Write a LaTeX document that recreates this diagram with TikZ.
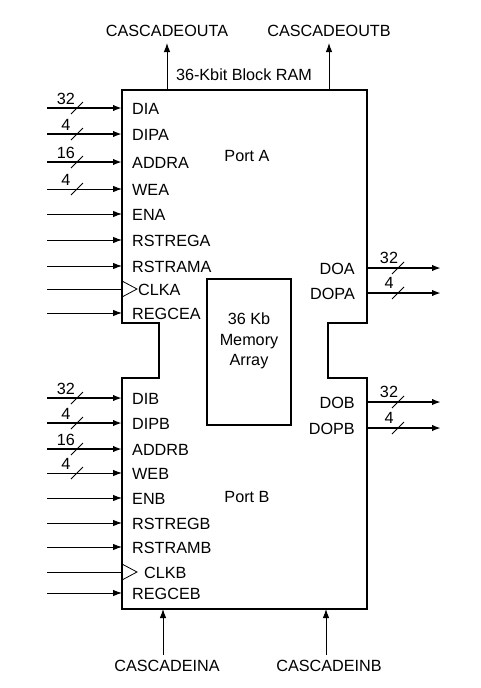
\documentclass[tikz,border=0pt]{standalone}
\usepackage{fontspec}
\setmainfont{Liberation Sans}
\usetikzlibrary{arrows.meta}
\begin{document}
\begin{tikzpicture}[x=1pt,y=-1pt,
  every node/.style={font=\fontsize{16.2}{19}\selectfont, inner sep=0pt, text=black},
  sig/.style={draw=black, line width=0.9pt, -{Latex[length=9pt,width=6.5pt]}},
  bus/.style={sig, line width=1.8pt},
  slashmark/.style={draw=black, line width=0.8pt},
  blk/.style={draw=black, line width=2pt, line join=miter},
  pinlbl/.style={anchor=west},
  outlbl/.style={anchor=east}]
\useasboundingbox (0,0) rectangle (481,688);
% block outline
\draw[blk] (122,90) -- (367,90) -- (367,323) -- (328,323) -- (328,378) -- (367,378)
  -- (367,609) -- (122,609) -- (122,378) -- (159,378) -- (159,323) -- (122,323) -- cycle;
% memory array
\node[draw=black, line width=2pt, minimum width=84pt, minimum height=146pt] (mem) at (249,352) {};
\node[align=center, font=\fontsize{16.2}{20.5}\selectfont] (memtxt) at (249,341) {36 Kb\\Memory\\Array};
\node (title) at (244,75) {36-Kbit Block RAM};
\node (porta) at (247,156) {Port A};
\node (portb) at (247,497) {Port B};
% wide bus inputs
\foreach \n/\y/\w in {DIA/108/32, DIPA/134/4, ADDRA/162/16, DIB/398/32, DIPB/423/4, ADDRB/449/16}{
  \coordinate (s\n) at (47,\y);
  \coordinate (p\n) at (122,\y);
  \draw[bus] (s\n) -- (p\n);
  \draw[slashmark] (71,\y+6) -- (83,\y-6);
  \node (w\n) at (66,\y-9) {\w};
  \node[pinlbl] (l\n) at (132,\y+1) {\n};
}
% narrow bus inputs
\foreach \n/\y/\w in {WEA/189/4, WEB/473/4}{
  \coordinate (s\n) at (47,\y);
  \coordinate (p\n) at (122,\y);
  \draw[sig] (s\n) -- (p\n);
  \draw[slashmark] (71,\y+6) -- (83,\y-6);
  \node (w\n) at (66,\y-9) {\w};
  \node[pinlbl] (l\n) at (132,\y+1) {\n};
}
% single inputs
\foreach \n/\y in {ENA/214, RSTREGA/240, RSTRAMA/266, REGCEA/313, ENB/498, RSTREGB/523, RSTRAMB/547, REGCEB/593}{
  \coordinate (s\n) at (47,\y);
  \coordinate (p\n) at (122,\y);
  \draw[sig] (s\n) -- (p\n);
  \node[pinlbl] (l\n) at (132,\y+1) {\n};
}
% clocks
\foreach \n/\y/\x in {CLKA/289/138, CLKB/572/144}{
  \coordinate (s\n) at (47,\y);
  \coordinate (p\n) at (122,\y);
  \draw[line width=0.9pt] (s\n) -- (p\n);
  \draw[line width=0.8pt, line join=miter] (122,\y-8) -- (137,\y) -- (122,\y+8);
  \node[pinlbl] (l\n) at (\x,\y+1) {\n};
}
% outputs
\foreach \n/\y/\w in {DOA/268/32, DOPA/293/4, DOB/402/32, DOPB/428/4}{
  \coordinate (p\n) at (367,\y);
  \coordinate (e\n) at (441,\y);
  \draw[bus] (p\n) -- (e\n);
  \draw[slashmark] (392,\y+6) -- (404,\y-6);
  \node (w\n) at (389,\y-10) {\w};
  \node[outlbl] (l\n) at (355,\y+1) {\n};
}
% cascade
\node (coa) at (167,31) {CASCADEOUTA};
\node (cob) at (329,31) {CASCADEOUTB};
\node (cia) at (167,666) {CASCADEINA};
\node (cib) at (329,666) {CASCADEINB};
\coordinate (coaP) at (167,90);
\coordinate (cobP) at (329,90);
\coordinate (ciaP) at (163,609);
\coordinate (cibP) at (326,609);
\draw[sig] (coaP) -- (coa.south |- 0,43);
\draw[sig] (cobP) -- (cob.south |- 0,43);
\draw[sig] (163,655) -- (ciaP);
\draw[sig] (326,655) -- (cibP);
\end{tikzpicture}
\end{document}
